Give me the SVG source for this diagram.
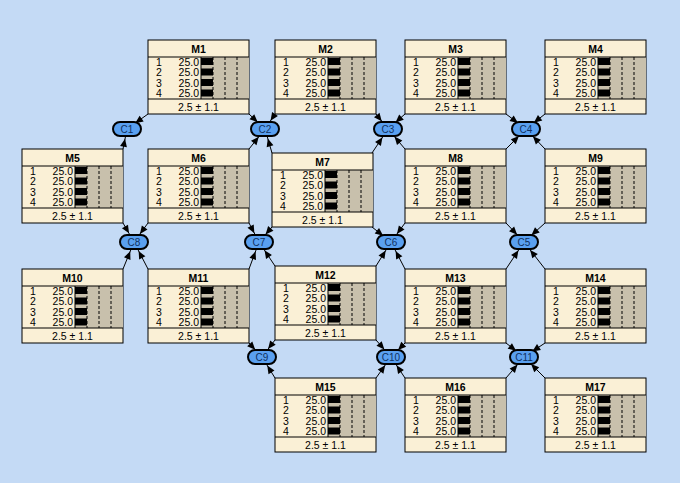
<svg xmlns="http://www.w3.org/2000/svg" xmlns:xlink="http://www.w3.org/1999/xlink" width="680" height="483" viewBox="0 0 680 483">
<style>
text{font-family:"Liberation Sans",Arial,sans-serif;font-size:10.5px;fill:#000}
.t{font-weight:bold;text-anchor:middle}
.n{text-anchor:end}
.f{text-anchor:middle}
.box{fill:#faf0d6;stroke:#000;stroke-width:1}
.ch{fill:#c8c0ac}
.d{stroke:#000;stroke-dasharray:3,2;stroke-width:1}
.con line{stroke:#000;stroke-width:1;marker-end:url(#a)}
.c rect{fill:#5aa0f0;stroke:#000;stroke-width:2}
.c text{text-anchor:middle;fill:#103060;font-size:10px}
</style>
<defs>
<marker id="a" markerUnits="userSpaceOnUse" viewBox="-20 -5 25 10" refX="10" refY="0" markerWidth="25" markerHeight="10" orient="auto"><path d="M-8,-3.5L0,0L-8,3.5z" fill="#000"/></marker>
<g id="fr">
<rect class="box" x="0" y="0" width="101" height="74"/>
<rect class="ch" x="53" y="17" width="48" height="42"/>
<line class="box" x1="0" y1="17" x2="101" y2="17"/>
<line class="box" x1="0" y1="59" x2="101" y2="59"/>
<line class="d" x1="65" y1="17" x2="65" y2="59"/>
<line class="d" x1="77" y1="17" x2="77" y2="59"/>
<line class="d" x1="89" y1="17" x2="89" y2="59"/>
<line x1="53" y1="17" x2="53" y2="59" stroke="#000"/>
<rect x="53" y="18" width="12" height="7"/><rect x="53" y="28.5" width="12" height="7"/><rect x="53" y="39" width="12" height="7"/><rect x="53" y="49.5" width="12" height="7"/>
<text x="8" y="25.5">1</text><text x="8" y="36">2</text><text x="8" y="46.5">3</text><text x="8" y="57">4</text>
<text class="n" x="51" y="25.5">25.0</text><text class="n" x="51" y="36">25.0</text><text class="n" x="51" y="46.5">25.0</text><text class="n" x="51" y="57">25.0</text>
<text class="f" x="50.5" y="70.5">2.5 ± 1.1</text>
</g>
</defs>
<rect width="680" height="483" fill="#c4daf5"/>
<g class="con" id="connectors">
<line x1="148" y1="114" x2="127" y2="129"/><line x1="123" y1="149" x2="127" y2="129"/>
<line x1="249" y1="114" x2="265" y2="129"/><line x1="275" y1="114" x2="265" y2="129"/><line x1="249" y1="149" x2="265" y2="129"/><line x1="272" y1="153" x2="265" y2="129"/>
<line x1="376" y1="114" x2="388" y2="129"/><line x1="405" y1="114" x2="388" y2="129"/><line x1="372" y1="153" x2="388" y2="129"/><line x1="405" y1="149" x2="388" y2="129"/>
<line x1="506" y1="114" x2="526" y2="129"/><line x1="545" y1="114" x2="526" y2="129"/><line x1="506" y1="149" x2="526" y2="129"/><line x1="545" y1="149" x2="526" y2="129"/>
<line x1="123" y1="223" x2="134" y2="242"/><line x1="148" y1="223" x2="134" y2="242"/><line x1="123" y1="269" x2="134" y2="242"/><line x1="148" y1="269" x2="134" y2="242"/>
<line x1="249" y1="223" x2="259" y2="242"/><line x1="272" y1="227" x2="259" y2="242"/><line x1="249" y1="269" x2="259" y2="242"/><line x1="275" y1="266" x2="259" y2="242"/>
<line x1="372" y1="227" x2="391" y2="242"/><line x1="405" y1="223" x2="391" y2="242"/><line x1="376" y1="266" x2="391" y2="242"/><line x1="405" y1="269" x2="391" y2="242"/>
<line x1="506" y1="223" x2="524" y2="242"/><line x1="545" y1="223" x2="524" y2="242"/><line x1="506" y1="269" x2="524" y2="242"/><line x1="545" y1="269" x2="524" y2="242"/>
<line x1="249" y1="343" x2="262" y2="357"/><line x1="275" y1="340" x2="262" y2="357"/><line x1="275" y1="378" x2="262" y2="357"/>
<line x1="376" y1="340" x2="391" y2="357"/><line x1="405" y1="343" x2="391" y2="357"/><line x1="376" y1="378" x2="391" y2="357"/><line x1="405" y1="378" x2="391" y2="357"/>
<line x1="506" y1="343" x2="524" y2="357"/><line x1="545" y1="343" x2="524" y2="357"/><line x1="506" y1="378" x2="524" y2="357"/><line x1="545" y1="378" x2="524" y2="357"/>
</g>
<g id="M1" transform="translate(148,40)"><use xlink:href="#fr"/><text class="t" x="50.5" y="13">M1</text></g>
<g id="M2" transform="translate(275,40)"><use xlink:href="#fr"/><text class="t" x="50.5" y="13">M2</text></g>
<g id="M3" transform="translate(405,40)"><use xlink:href="#fr"/><text class="t" x="50.5" y="13">M3</text></g>
<g id="M4" transform="translate(545,40)"><use xlink:href="#fr"/><text class="t" x="50.5" y="13">M4</text></g>
<g id="M5" transform="translate(22,149)"><use xlink:href="#fr"/><text class="t" x="50.5" y="13">M5</text></g>
<g id="M6" transform="translate(148,149)"><use xlink:href="#fr"/><text class="t" x="50.5" y="13">M6</text></g>
<g id="M7" transform="translate(272,153)"><use xlink:href="#fr"/><text class="t" x="50.5" y="13">M7</text></g>
<g id="M8" transform="translate(405,149)"><use xlink:href="#fr"/><text class="t" x="50.5" y="13">M8</text></g>
<g id="M9" transform="translate(545,149)"><use xlink:href="#fr"/><text class="t" x="50.5" y="13">M9</text></g>
<g id="M10" transform="translate(22,269)"><use xlink:href="#fr"/><text class="t" x="50.5" y="13">M10</text></g>
<g id="M11" transform="translate(148,269)"><use xlink:href="#fr"/><text class="t" x="50.5" y="13">M11</text></g>
<g id="M12" transform="translate(275,266)"><use xlink:href="#fr"/><text class="t" x="50.5" y="13">M12</text></g>
<g id="M13" transform="translate(405,269)"><use xlink:href="#fr"/><text class="t" x="50.5" y="13">M13</text></g>
<g id="M14" transform="translate(545,269)"><use xlink:href="#fr"/><text class="t" x="50.5" y="13">M14</text></g>
<g id="M15" transform="translate(275,378)"><use xlink:href="#fr"/><text class="t" x="50.5" y="13">M15</text></g>
<g id="M16" transform="translate(405,378)"><use xlink:href="#fr"/><text class="t" x="50.5" y="13">M16</text></g>
<g id="M17" transform="translate(545,378)"><use xlink:href="#fr"/><text class="t" x="50.5" y="13">M17</text></g>
<g class="c" id="C1"><rect x="113" y="122" width="28" height="14" rx="7"/><text x="127" y="133">C1</text></g>
<g class="c" id="C2"><rect x="251" y="122" width="28" height="14" rx="7"/><text x="265" y="133">C2</text></g>
<g class="c" id="C3"><rect x="374" y="122" width="28" height="14" rx="7"/><text x="388" y="133">C3</text></g>
<g class="c" id="C4"><rect x="512" y="122" width="28" height="14" rx="7"/><text x="526" y="133">C4</text></g>
<g class="c" id="C8"><rect x="120" y="235" width="28" height="14" rx="7"/><text x="134" y="246">C8</text></g>
<g class="c" id="C7"><rect x="245" y="235" width="28" height="14" rx="7"/><text x="259" y="246">C7</text></g>
<g class="c" id="C6"><rect x="377" y="235" width="28" height="14" rx="7"/><text x="391" y="246">C6</text></g>
<g class="c" id="C5"><rect x="510" y="235" width="28" height="14" rx="7"/><text x="524" y="246">C5</text></g>
<g class="c" id="C9"><rect x="248" y="350" width="28" height="14" rx="7"/><text x="262" y="361">C9</text></g>
<g class="c" id="C10"><rect x="377" y="350" width="28" height="14" rx="7"/><text x="391" y="361">C10</text></g>
<g class="c" id="C11"><rect x="510" y="350" width="28" height="14" rx="7"/><text x="524" y="361">C11</text></g>
</svg>
